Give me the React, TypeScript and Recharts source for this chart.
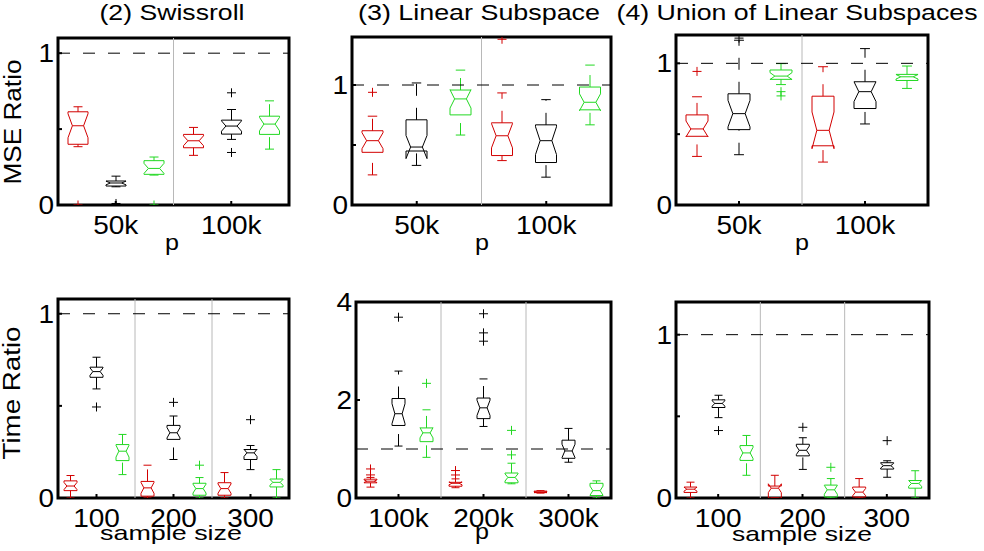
import React from 'react';
import { ComposedChart, Bar, XAxis, YAxis, ReferenceLine, ReferenceArea } from 'recharts';

type Box = { lo: number; q1: number; med: number; q3: number; hi: number; out: number[] };
type SeriesKey = 'red' | 'black' | 'green';

const FONT = '"Liberation Sans", Arial, Helvetica, sans-serif';
const RED = '#d20000';
const BLACK = '#000000';
const GREEN = '#22d822';
const SEP = '#b8b8b8';
const NOTCH = 0.37;
const SX = 1.12;

// ---------- categories ----------
const mseCats = ['50k', '100k'];
const swissTimeCats = ['100', '200', '300'];
const linearTimeCats = ['100k', '200k', '300k'];
const unionTimeCats = ['100', '200', '300'];

// ---------- tick values / labels ----------
const unitTicks = [0, 0.5, 1];
const unitTickLabels = ['0', '', '1'];
const linTimeTicks = [0, 2, 4];
const linTimeTickLabels = ['0', '2', '4'];

// ---------- (2) Swissroll, MSE ratio ----------
const swissMseRed: Box[] = [
  { lo: 0.384, q1: 0.4, med: 0.522, q3: 0.614, hi: 0.647, out: [0] },
  { lo: 0.327, q1: 0.377, med: 0.423, q3: 0.465, hi: 0.511, out: [] },
];
const swissMseBlack: Box[] = [
  { lo: 0.12, q1: 0.125, med: 0.145, q3: 0.158, hi: 0.19, out: [0.01] },
  { lo: 0.432, q1: 0.467, med: 0.52, q3: 0.559, hi: 0.629, out: [0.739, 0.346] },
];
const swissMseGreen: Box[] = [
  { lo: 0.197, q1: 0.202, med: 0.241, q3: 0.292, hi: 0.316, out: [0] },
  { lo: 0.368, q1: 0.465, med: 0.533, q3: 0.585, hi: 0.686, out: [] },
];

// ---------- (3) Linear Subspace, MSE ratio ----------
const linearMseRed: Box[] = [
  { lo: 0.251, q1: 0.439, med: 0.536, q3: 0.619, hi: 0.74, out: [0.939] },
  { lo: 0.37, q1: 0.412, med: 0.577, q3: 0.685, hi: 0.934, out: [1.381] },
];
const linearMseBlack: Box[] = [
  { lo: 0.33, q1: 0.45, med: 0.483, q3: 0.71, hi: 1.017, out: [] },
  { lo: 0.232, q1: 0.354, med: 0.536, q3: 0.668, hi: 0.878, out: [] },
];
const linearMseGreen: Box[] = [
  { lo: 0.583, q1: 0.751, med: 0.884, q3: 0.958, hi: 1.124, out: [] },
  { lo: 0.668, q1: 0.793, med: 0.856, q3: 0.983, hi: 1.166, out: [] },
];

// ---------- (4) Union of Linear Subspaces, MSE ratio ----------
const unionMseRed: Box[] = [
  { lo: 0.343, q1: 0.485, med: 0.537, q3: 0.636, hi: 0.764, out: [0.943] },
  { lo: 0.303, q1: 0.418, med: 0.527, q3: 0.768, hi: 0.976, out: [] },
];
const unionMseBlack: Box[] = [
  { lo: 0.355, q1: 0.532, med: 0.645, q3: 0.785, hi: 1.163, out: [1.178] },
  { lo: 0.572, q1: 0.681, med: 0.8, q3: 0.87, hi: 1.104, out: [] },
];
const unionMseGreen: Box[] = [
  { lo: 0.85, q1: 0.887, med: 0.91, q3: 0.953, hi: 0.998, out: [0.8, 0.77] },
  { lo: 0.823, q1: 0.879, med: 0.905, q3: 0.922, hi: 0.981, out: [] },
];

// ---------- Swissroll, time ratio ----------
const swissTimeRed: Box[] = [
  { lo: 0, q1: 0.04, med: 0.065, q3: 0.093, hi: 0.122, out: [] },
  { lo: 0, q1: 0.01, med: 0.055, q3: 0.09, hi: 0.178, out: [] },
  { lo: 0, q1: 0.015, med: 0.051, q3: 0.083, hi: 0.138, out: [] },
];
const swissTimeBlack: Box[] = [
  { lo: 0.592, q1: 0.655, med: 0.686, q3: 0.71, hi: 0.764, out: [0.494] },
  { lo: 0.209, q1: 0.318, med: 0.354, q3: 0.394, hi: 0.445, out: [0.519] },
  { lo: 0.154, q1: 0.209, med: 0.245, q3: 0.263, hi: 0.285, out: [0.425] },
];
const swissTimeGreen: Box[] = [
  { lo: 0.127, q1: 0.203, med: 0.254, q3: 0.29, hi: 0.345, out: [] },
  { lo: 0, q1: 0.015, med: 0.051, q3: 0.08, hi: 0.111, out: [0.178] },
  { lo: 0, q1: 0.06, med: 0.085, q3: 0.103, hi: 0.154, out: [] },
];

// ---------- Linear Subspace, time ratio ----------
const linearTimeRed: Box[] = [
  { lo: 0.222, q1: 0.31, med: 0.343, q3: 0.384, hi: 0.42, out: [0.593, 0.471] },
  { lo: 0.21, q1: 0.24, med: 0.3, q3: 0.32, hi: 0.39, out: [0.56, 0.47] },
  { lo: 0.1, q1: 0.11, med: 0.12, q3: 0.14, hi: 0.15, out: [] },
];
const linearTimeBlack: Box[] = [
  { lo: 1.06, q1: 1.48, med: 1.72, q3: 2.03, hi: 2.59, out: [3.69] },
  { lo: 1.46, q1: 1.62, med: 1.84, q3: 2.04, hi: 2.43, out: [3.76, 3.37, 3.2] },
  { lo: 0.73, q1: 0.81, med: 0.96, q3: 1.18, hi: 1.42, out: [] },
];
const linearTimeGreen: Box[] = [
  { lo: 0.83, q1: 1.15, med: 1.33, q3: 1.43, hi: 1.8, out: [2.34] },
  { lo: 0.29, q1: 0.31, med: 0.42, q3: 0.51, hi: 0.71, out: [1.38, 0.88] },
  { lo: 0, q1: 0.05, med: 0.15, q3: 0.3, hi: 0.35, out: [] },
];

// ---------- Union, time ratio ----------
const unionTimeRed: Box[] = [
  { lo: 0, q1: 0.034, med: 0.054, q3: 0.067, hi: 0.097, out: [] },
  { lo: 0, q1: 0, med: 0.06, q3: 0.073, hi: 0.139, out: [] },
  { lo: 0, q1: 0.006, med: 0.036, q3: 0.067, hi: 0.119, out: [] },
];
const unionTimeBlack: Box[] = [
  { lo: 0.492, q1: 0.554, med: 0.579, q3: 0.601, hi: 0.629, out: [0.413] },
  { lo: 0.175, q1: 0.258, med: 0.292, q3: 0.329, hi: 0.369, out: [0.433] },
  { lo: 0.127, q1: 0.177, med: 0.198, q3: 0.216, hi: 0.228, out: [0.351] },
];
const unionTimeGreen: Box[] = [
  { lo: 0.139, q1: 0.23, med: 0.276, q3: 0.321, hi: 0.383, out: [] },
  { lo: 0, q1: 0.006, med: 0.05, q3: 0.079, hi: 0.119, out: [0.188] },
  { lo: 0, q1: 0.06, med: 0.089, q3: 0.107, hi: 0.167, out: [] },
];

const makeBox = (key: SeriesKey, color: string) => (props: any) => {
  const { x, y, width, height, payload } = props;
  const s: Box | undefined = payload ? payload[key] : undefined;
  if (!s || !isFinite(y) || !isFinite(height) || s.hi === s.lo) return <g />;
  const top = Math.min(y, y + height);
  const span = Math.abs(height);
  const ppu = span / (s.hi - s.lo);
  const py = (v: number) => top + (s.hi - v) * ppu;
  const L = x;
  const R = x + width;
  const cx = x + width / 2;
  const inset = width * 0.22;
  const nh = NOTCH * (s.q3 - s.q1);
  const nLo = Math.max(0, s.med - nh);
  const nHi = s.med + nh;
  const boxPath =
    `M${L},${py(s.q1)} L${L},${py(nLo)} L${L + inset},${py(s.med)} L${L},${py(nHi)} L${L},${py(s.q3)} ` +
    `L${R},${py(s.q3)} L${R},${py(nHi)} L${R - inset},${py(s.med)} L${R},${py(nLo)} L${R},${py(s.q1)} Z`;
  const cw = Math.max(8, width * 0.45);
  const m = 4.5;
  return (
    <g>
      <path d={`M${cx},${py(s.q3)} L${cx},${py(s.hi)}`} stroke={color} strokeWidth={1} strokeDasharray="12 12" fill="none" />
      <path d={`M${cx},${py(s.lo)} L${cx},${py(s.q1)}`} stroke={color} strokeWidth={1} strokeDasharray="12 12" fill="none" />
      <path d={`M${cx - cw / 2},${py(s.hi)} H${cx + cw / 2} M${cx - cw / 2},${py(s.lo)} H${cx + cw / 2}`} stroke={color} strokeWidth={1} fill="none" />
      <path d={boxPath} stroke={color} strokeWidth={1} fill="none" />
      <path d={`M${L + inset},${py(s.med)} H${R - inset}`} stroke={color} strokeWidth={1} fill="none" />
      {s.out.map((o, i) => (
        <path key={i} d={`M${cx - m},${py(o)} H${cx + m} M${cx},${py(o) - m} V${py(o) + m}`} stroke={color} strokeWidth={1} fill="none" />
      ))}
    </g>
  );
};

const redShape = makeBox('red', RED);
const blackShape = makeBox('black', BLACK);
const greenShape = makeBox('green', GREEN);

const CatTick = (props: any) => {
  const { x, y, payload } = props;
  return (
    <g>
      <path d={`M${x},${y} V${y - 4}`} stroke="#000" strokeWidth={2} />
      <g transform={`translate(${x},${y + 29}) scale(${SX},1)`}>
        <text x={0} y={0} textAnchor="middle" fontSize={25} fontFamily={FONT} fill="#000">
          {payload.value}
        </text>
      </g>
    </g>
  );
};

const makeLeftTick = (values: number[], labels: string[]) => (props: any) => {
  const { x, y, payload } = props;
  const idx = values.indexOf(payload.value);
  const label = idx >= 0 ? labels[idx] : '';
  return (
    <g>
      <path d={`M${x},${y} H${x + 4}`} stroke="#000" strokeWidth={2} />
      {label ? (
        <g transform={`translate(${x - 4},${y}) scale(${SX},1)`}>
          <text x={0} y={0} dy="0.36em" textAnchor="end" fontSize={25} fontFamily={FONT} fill="#000">
            {label}
          </text>
        </g>
      ) : null}
    </g>
  );
};

type PanelProps = {
  left: number;
  top: number;
  plotW: number;
  plotH: number;
  cats: string[];
  red: Box[];
  black: Box[];
  green: Box[];
  ymax: number;
  yTicks: number[];
  yLabels: string[];
  barSize: number;
  barGap: number;
};

function Panel(p: PanelProps) {
  const YW = 40;
  const XH = 40;
  const MT = 14;
  const MR = 6;
  const data = p.cats.map((cat, i) => ({ cat, red: p.red[i], black: p.black[i], green: p.green[i] }));
  const LeftTick = makeLeftTick(p.yTicks, p.yLabels);
  return (
    <div style={{ position: 'absolute', left: p.left - YW, top: p.top - MT }}>
      <ComposedChart
        width={p.plotW + YW + MR}
        height={p.plotH + MT + XH}
        data={data}
        margin={{ top: MT, right: MR, bottom: 0, left: 0 }}
        barSize={p.barSize}
        barGap={p.barGap}
      >
        <XAxis
          xAxisId="cat"
          dataKey="cat"
          type="category"
          height={XH}
          axisLine={false}
          tickLine={false}
          tickSize={0}
          tickMargin={0}
          interval={0}
          tick={<CatTick />}
        />
        <YAxis
          yAxisId="l"
          type="number"
          domain={[0, p.ymax]}
          ticks={p.yTicks}
          allowDataOverflow
          width={YW}
          axisLine={false}
          tickLine={false}
          tickSize={0}
          tickMargin={0}
          interval={0}
          tick={<LeftTick />}
        />
        {p.cats.slice(1).map((c) => (
          <ReferenceLine key={`sep-${c}`} xAxisId="cat" yAxisId="l" x={c} position="start" stroke={SEP} strokeWidth={1} />
        ))}
        <ReferenceLine xAxisId="cat" yAxisId="l" y={1} stroke="#000" strokeWidth={1} strokeDasharray="12 13" />
        <Bar xAxisId="cat" yAxisId="l" dataKey={(d: any) => [d.red.lo, d.red.hi]} shape={redShape} isAnimationActive={false} />
        <Bar xAxisId="cat" yAxisId="l" dataKey={(d: any) => [d.black.lo, d.black.hi]} shape={blackShape} isAnimationActive={false} />
        <Bar xAxisId="cat" yAxisId="l" dataKey={(d: any) => [d.green.lo, d.green.hi]} shape={greenShape} isAnimationActive={false} />
        <ReferenceArea xAxisId="cat" yAxisId="l" y1={0} y2={p.ymax} fill="none" fillOpacity={0} stroke="#000" strokeWidth={3} ifOverflow="visible" />
      </ComposedChart>
    </div>
  );
}

const T = (props: { x: number; y: number; len: number; size: number; children: string; rotate?: boolean }) => (
  <text
    x={props.x}
    y={props.y}
    textAnchor="middle"
    fontSize={props.size}
    fontFamily={FONT}
    fill="#000"
    textLength={props.len}
    lengthAdjust="spacingAndGlyphs"
    transform={props.rotate ? `rotate(-90, ${props.x}, ${props.y})` : undefined}
  >
    {props.children}
  </text>
);

export default function App() {
  return (
    <div style={{ position: 'absolute', left: 0, top: 0, width: 984, height: 551, background: '#fff', overflow: 'hidden' }}>
      <Panel left={58} top={38} plotW={231} plotH={167} cats={mseCats} red={swissMseRed} black={swissMseBlack} green={swissMseGreen} ymax={1.1} yTicks={unitTicks} yLabels={unitTickLabels} barSize={20} barGap={18} />
      <Panel left={352} top={37} plotW={259} plotH={168} cats={mseCats} red={linearMseRed} black={linearMseBlack} green={linearMseGreen} ymax={1.4} yTicks={unitTicks} yLabels={unitTickLabels} barSize={21} barGap={23} />
      <Panel left={676} top={35} plotW={252} plotH={170} cats={mseCats} red={unionMseRed} black={unionMseBlack} green={unionMseGreen} ymax={1.2} yTicks={unitTicks} yLabels={unitTickLabels} barSize={22} barGap={20} />
      <Panel left={58} top={299} plotW={231} plotH={199} cats={swissTimeCats} red={swissTimeRed} black={swissTimeBlack} green={swissTimeGreen} ymax={1.08} yTicks={unitTicks} yLabels={unitTickLabels} barSize={13} barGap={13} />
      <Panel left={356} top={302} plotW={255} plotH={196} cats={linearTimeCats} red={linearTimeRed} black={linearTimeBlack} green={linearTimeGreen} ymax={4} yTicks={linTimeTicks} yLabels={linTimeTickLabels} barSize={13} barGap={15} />
      <Panel left={676} top={302} plotW={253} plotH={196} cats={unionTimeCats} red={unionTimeRed} black={unionTimeBlack} green={unionTimeGreen} ymax={1.2} yTicks={unitTicks} yLabels={unitTickLabels} barSize={13} barGap={15} />
      <svg width={984} height={551} style={{ position: 'absolute', left: 0, top: 0, pointerEvents: 'none' }}>
        <T x={172} y={20} len={145} size={22}>(2) Swissroll</T>
        <T x={479} y={20} len={242} size={22}>(3) Linear Subspace</T>
        <T x={797} y={20} len={361} size={22}>(4) Union of Linear Subspaces</T>
        <T x={21} y={122} len={125} size={23} rotate>MSE Ratio</T>
        <T x={20} y={393} len={133} size={23} rotate>Time Ratio</T>
        <T x={172} y={250} len={14} size={22}>p</T>
        <T x={482} y={250} len={14} size={22}>p</T>
        <T x={802} y={250} len={14} size={22}>p</T>
        <T x={171} y={540} len={142} size={21}>sample size</T>
        <T x={482} y={539} len={14} size={22}>p</T>
        <T x={802} y={541} len={140} size={21}>sample size</T>
      </svg>
    </div>
  );
}
